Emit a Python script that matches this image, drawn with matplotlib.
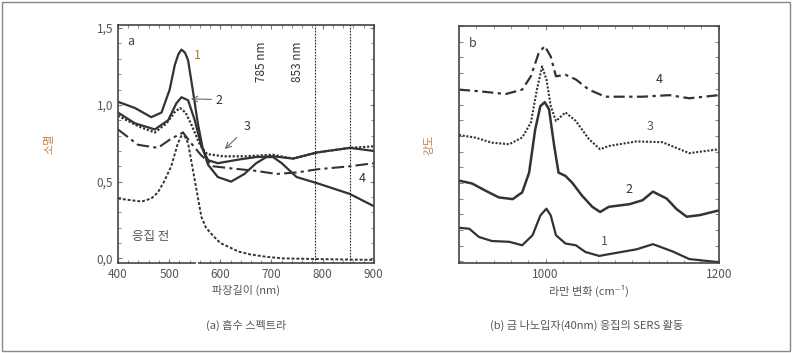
import matplotlib
matplotlib.use('Agg')
import matplotlib.pyplot as plt
from matplotlib.patches import Rectangle
from matplotlib.ticker import MultipleLocator

plt.rcParams['font.family'] = ['Noto Sans CJK KR', 'DejaVu Sans']
plt.rcParams['lines.solid_joinstyle'] = 'round'
plt.rcParams['lines.dash_joinstyle'] = 'round'

# ---------------------------------------------------------------------------
# (a) absorption spectra
# ---------------------------------------------------------------------------
a1_x = [400, 433, 465, 485, 501, 511, 518, 524, 531, 537, 546, 556, 566, 576,
        595, 621, 647, 670, 690, 703, 720, 749, 789, 853, 900]
a1_y = [1.02, 0.98, 0.92, 0.95, 1.10, 1.26, 1.33, 1.36, 1.34, 1.29, 1.10, 0.88,
        0.71, 0.61, 0.53, 0.50, 0.55, 0.62, 0.66, 0.66, 0.62, 0.53, 0.49, 0.42,
        0.34]

a2_x = [400, 433, 472, 498, 514, 524, 537, 550, 563, 576, 595, 638, 670, 703,
        742, 789, 853, 900]
a2_y = [0.95, 0.88, 0.84, 0.90, 1.01, 1.05, 1.03, 0.90, 0.73, 0.64, 0.62,
        0.645, 0.66, 0.665, 0.65, 0.69, 0.72, 0.70]

a3_x = [400, 440, 472, 495, 510, 521, 532, 545, 560, 574, 605, 650, 703, 742,
        789, 853, 900]
a3_y = [0.93, 0.86, 0.82, 0.88, 0.95, 0.98, 0.95, 0.86, 0.74, 0.68, 0.665,
        0.665, 0.675, 0.65, 0.69, 0.72, 0.73]

a4_x = [400, 439, 478, 504, 527, 543, 563, 586, 625, 670, 710, 750, 789, 853,
        900]
a4_y = [0.84, 0.74, 0.72, 0.78, 0.82, 0.75, 0.67, 0.60, 0.585, 0.57, 0.55,
        0.56, 0.58, 0.60, 0.62]

a0_x = [400, 446, 465, 478, 490, 504, 517, 527, 537, 550, 563, 572, 585, 600,
        613, 635, 658, 690, 722, 800, 900]
a0_y = [0.39, 0.37, 0.39, 0.43, 0.50, 0.60, 0.75, 0.82, 0.75, 0.51, 0.27,
        0.20, 0.15, 0.10, 0.08, 0.045, 0.026, 0.01, 0.0, -0.005, -0.01]

laser_lines = [785, 853]

# ---------------------------------------------------------------------------
# (b) SERS spectra
# ---------------------------------------------------------------------------
b4_x = [900, 923, 954, 973, 983, 992, 999, 1006, 1012, 1023, 1035, 1050, 1069,
        1082, 1112, 1143, 1166, 1200]
b4_y = [10.95, 10.85, 10.67, 10.95, 11.8, 13.27, 13.73, 13.06, 11.8, 11.9,
        11.6, 10.95, 10.5, 10.5, 10.5, 10.6, 10.4, 10.6]

b3_x = [900, 919, 938, 958, 973, 983, 990, 996, 1001, 1006, 1012, 1023, 1035,
        1050, 1063, 1073, 1105, 1135, 1166, 1200]
b3_y = [8.06, 7.89, 7.57, 7.47, 7.9, 8.84, 10.95, 12.43, 11.6, 9.9, 8.95, 9.5,
        8.95, 7.8, 7.15, 7.36, 7.65, 7.6, 6.9, 7.15]

b2_x = [900, 915, 931, 946, 962, 973, 981, 988, 994, 999, 1004, 1010, 1015,
        1023, 1031, 1042, 1054, 1063, 1073, 1097, 1112, 1124, 1140, 1151, 1163,
        1178, 1200]
b2_y = [5.15, 4.97, 4.5, 4.08, 3.97, 4.4, 5.66, 8.4, 9.9, 10.15, 9.7, 7.36,
        5.66, 5.45, 5.0, 4.2, 3.48, 3.15, 3.48, 3.65, 3.9, 4.45, 4.0, 3.35,
        2.85, 2.95, 3.25]

b1_x = [900, 912, 923, 938, 958, 973, 985, 994, 1001, 1006, 1012, 1023, 1035,
        1046, 1062, 1071, 1105, 1124, 1147, 1166, 1200]
b1_y = [2.15, 2.08, 1.56, 1.3, 1.25, 1.03, 1.67, 2.93, 3.36, 2.93, 1.67, 1.14,
        1.03, 0.6, 0.35, 0.44, 0.77, 1.1, 0.63, 0.15, -0.05]

LINE = '#333333'
TICK = '#555555'

fig = plt.figure(figsize=(7.92, 3.53), dpi=100)
fig.patches.append(Rectangle((0.003, 0.006), 0.994, 0.988, transform=fig.transFigure,
                             fill=False, edgecolor='#888888', linewidth=1.0))

ax1 = fig.add_axes([0.149, 0.255, 0.323, 0.674])
ax2 = fig.add_axes([0.5795, 0.255, 0.328, 0.671])

# --- panel a
ax1.plot(a1_x, a1_y, color=LINE, lw=1.6)
ax1.plot(a2_x, a2_y, color=LINE, lw=1.6)
ax1.plot(a3_x, a3_y, color=LINE, lw=1.6, ls=(0, (1, 0.8)))
ax1.plot(a4_x, a4_y, color=LINE, lw=1.5, ls=(0, (6, 2, 1.5, 2)))
ax1.plot(a0_x, a0_y, color=LINE, lw=1.4, ls=(0, (1.5, 1)))
for wl in laser_lines:
    ax1.axvline(wl, color='#222222', lw=0.8, ls=(0, (1.5, 1.2)))

ax1.set_xlim(400, 900)
ax1.set_ylim(-0.03, 1.52)
ax1.set_xticks([400, 500, 600, 700, 800, 900])
ax1.set_yticks([0.0, 0.5, 1.0, 1.5])
ax1.set_yticklabels(['0,0', '0,5', '1,0', '1,5'])
ax1.xaxis.set_minor_locator(MultipleLocator(20))
ax1.yaxis.set_minor_locator(MultipleLocator(0.1))
ax1.tick_params(which='both', direction='in', top=True, right=True,
                colors='#777777', labelcolor=TICK, labelsize=8.5)
ax1.tick_params(which='major', length=3)
ax1.tick_params(which='minor', length=2)
for s in ax1.spines.values():
    s.set_color('#444444')
    s.set_linewidth(1.2)
# small break in the bottom spine
ax1.plot([552, 556], [-0.03, -0.03], color='white', lw=3, clip_on=False,
         solid_capstyle='butt', zorder=5)

ax1.text(425, 1.41, 'a', fontsize=9, color='#444444', ha='center', va='center')
ax1.text(556, 1.32, '1', fontsize=9, color='#b07a30', ha='center', va='center')
ax1.text(597, 1.03, '2', fontsize=9, color='#333333', ha='center', va='center')
ax1.annotate('', xy=(537, 1.04), xytext=(588, 1.035),
             arrowprops=dict(arrowstyle='->', color='#666666', lw=0.8))
ax1.text(652, 0.86, '3', fontsize=9, color='#333333', ha='center', va='center')
ax1.annotate('', xy=(605, 0.70), xytext=(636, 0.80),
             arrowprops=dict(arrowstyle='->', color='#666666', lw=0.8))
ax1.text(878, 0.52, '4', fontsize=9, color='#333333', ha='center', va='center')
ax1.text(681, 1.28, '785 nm', fontsize=8.5, rotation=90, color='#333333',
         ha='center', va='center')
ax1.text(751, 1.28, '853 nm', fontsize=8.5, rotation=90, color='#333333',
         ha='center', va='center')
ax1.text(463, 0.14, '응집 전', fontsize=9, color='#555555', ha='center', va='center')

ax1.set_xlabel('파장길이 (nm)', fontsize=8, color='#555555', labelpad=3)
ax1.set_ylabel('소멸', fontsize=8, color='#d0803a', labelpad=30)
fig.text(0.311, 0.079, '(a) 흡수 스펙트라', fontsize=8, color='#555555',
         ha='center', va='center')

# --- panel b
ax2.plot(b4_x, b4_y, color=LINE, lw=1.6, ls=(0, (5, 2, 1.5, 2)))
ax2.plot(b3_x, b3_y, color=LINE, lw=1.5, ls=(0, (1, 0.8)))
ax2.plot(b2_x, b2_y, color=LINE, lw=1.8)
ax2.plot(b1_x, b1_y, color=LINE, lw=1.6)

ax2.set_xlim(900, 1200)
ax2.set_ylim(-0.1, 15)
ax2.set_xticks([1000, 1200])
ax2.xaxis.set_minor_locator(MultipleLocator(20))
ax2.set_yticks(range(0, 16))
ax2.set_yticklabels([])
ax2.tick_params(which='both', direction='in', top=True, right=True,
                colors='#888888', labelcolor=TICK, labelsize=8.5)
ax2.tick_params(which='major', length=3)
ax2.tick_params(which='minor', length=2)
for s in ax2.spines.values():
    s.set_color('#444444')
    s.set_linewidth(1.2)

ax2.text(916, 13.9, 'b', fontsize=9, color='#444444', ha='center', va='center')
ax2.text(1131, 11.6, '4', fontsize=9, color='#333333', ha='center', va='center')
ax2.text(1121, 8.6, '3', fontsize=9, color='#555555', ha='center', va='center')
ax2.text(1096, 4.6, '2', fontsize=9, color='#333333', ha='center', va='center')
ax2.text(1068, 1.3, '1', fontsize=9, color='#555555', ha='center', va='center')

ax2.set_xlabel('라만 변화 (cm⁻¹)', fontsize=8, color='#555555', labelpad=3)
ax2.set_ylabel('강도', fontsize=8, color='#c08050', labelpad=14)
fig.text(0.741, 0.079, '(b) 금 나노입자(40nm) 응집의 SERS 활동', fontsize=8,
         color='#555555', ha='center', va='center')

fig.savefig('out.png', dpi=100)
